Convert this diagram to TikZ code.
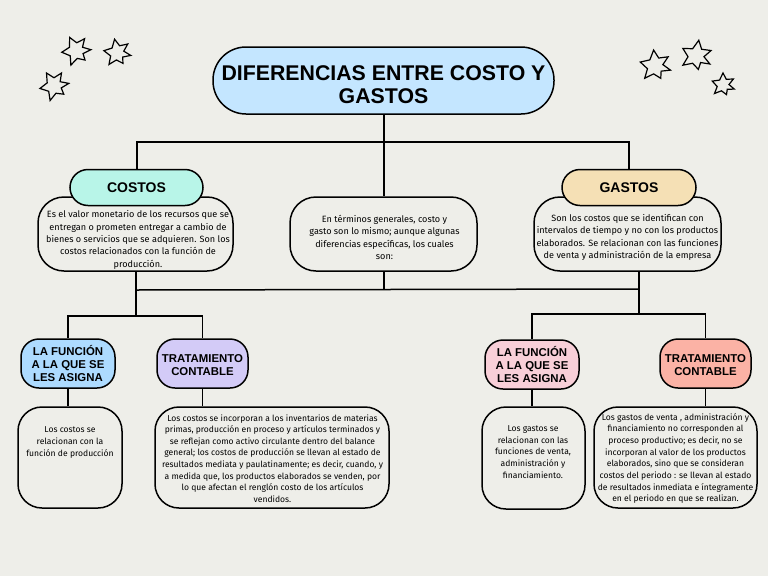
\documentclass[tikz,border=0pt]{standalone}
\usepackage{fontspec}
\setmainfont{Fira Sans}
\newfontfamily\headfont{Liberation Sans}
\definecolor{paper}{HTML}{EEEEE9}
\definecolor{titleblue}{HTML}{C4E6FF}
\definecolor{costosgreen}{HTML}{B8F5E8}
\definecolor{gastosbeige}{HTML}{F5E0B5}
\definecolor{funcblue}{HTML}{ADDBFF}
\definecolor{tratlila}{HTML}{D3CBF7}
\definecolor{funcpink}{HTML}{F8CFD8}
\definecolor{tratsalmon}{HTML}{FBB2A5}
\tikzset{
  headbox/.style={draw,line width=1.5pt,rounded corners=#1,align=center,inner sep=0pt,
    font=\headfont\bfseries\fontsize{11.4}{13.2}\selectfont},
  textbox/.style={draw,line width=1.5pt,rounded corners=#1,inner sep=0pt,fill=paper},
  uppertext/.style={align=center,inner sep=0pt,font=\fontsize{9.1}{12.3}\selectfont},
  lowertext/.style={align=center,inner sep=0pt,font=\fontsize{8.55}{11.65}\selectfont},
  link/.style={line width=1.5pt},
  toplink/.style={line width=2pt}
}
\newcommand{\starshape}[3]{% centre, size, turn
  \draw[line width=1.2pt,line join=miter,shift={#1},rotate=#3,scale=#2]
    (110:1) -- (80:.5) -- (45:.85) -- (20:.5) -- (-5:1) -- (-30:.5) -- (-55:1)
    -- (-85:.55) -- (-115:1) -- (-150:.5) -- (175:.95) -- (140:.5) -- cycle;
}
\begin{document}
\begin{tikzpicture}[x=1pt,y=-1pt]
   \useasboundingbox[fill=paper] (0,0) rectangle (768,576);
   % stars
   \starshape{(76,51)}{15}{0}
   \starshape{(117,53)}{14}{-15}
   \starshape{(54,86)}{15}{5}
   \starshape{(655,66)}{16}{-20}
   \starshape{(696,56)}{16}{-35}
   \starshape{(723,85)}{12}{-25}
   % connectors go first, boxes cover their ends
   \coordinate (barra) at (384,142);
   \coordinate (mediobaja) at (384,290);
   \coordinate (costossale) at (136,271);
   \coordinate (costosbaja) at (136,290);
   \coordinate (gastossale) at (639,271);
   \coordinate (gastosbaja) at (639,289);
   \coordinate (costosrama) at (136,316);
   \coordinate (gastosrama) at (639,314);
   % top row boxes
   \node[headbox=33pt,fill=titleblue,minimum width=341pt,minimum height=67pt,
     font=\headfont\bfseries\fontsize{21.3}{23.5}\selectfont] (titulo) at (383.5,80.5)
     {\rule{0pt}{23pt}DIFERENCIAS ENTRE COSTO Y\\GASTOS};
   \node[textbox=26pt,minimum width=195pt,minimum height=74pt] (costosdesc) at (135.5,234) {};
   \node[textbox=26pt,minimum width=187pt,minimum height=74pt] (mediodesc) at (383.5,234) {};
   \node[textbox=26pt,minimum width=187pt,minimum height=74pt] (gastosdesc) at (627.5,234) {};
   \node[headbox=18pt,fill=costosgreen,minimum width=133pt,minimum height=36pt,
     font=\headfont\bfseries\fontsize{14}{16}\selectfont] (costos) at (136.5,187.5) {COSTOS};
   \node[headbox=18pt,fill=gastosbeige,minimum width=134pt,minimum height=36pt,
     font=\headfont\bfseries\fontsize{14}{16}\selectfont] (gastos) at (629,187.5) {GASTOS};
   \node[uppertext] (costostxt) at (138,240)
     {Es el valor monetario de los recursos que se\\entregan o prometen entregar a cambio de\\bienes o servicios que se adquieren. Son los\\costos relacionados con la función de\\producción.};
   \node[uppertext] (mediotxt) at (384.5,237.5)
     {En términos generales, costo y\\gasto son lo mismo; aunque algunas\\diferencias específicas, los cuales\\son:};
   \node[uppertext] (gastostxt) at (627.5,237.5)
     {Son los costos que se identifican con\\intervalos de tiempo y no con los productos\\elaborados. Se relacionan con las funciones\\de venta y administración de la empresa};
   % bottom row boxes
   \node[headbox=18pt,fill=funcblue,minimum width=94pt,minimum height=49pt] (funcion1) at (68,363.5) {LA FUNCIÓN\\A LA QUE SE\\LES ASIGNA};
   \node[headbox=18pt,fill=tratlila,minimum width=91pt,minimum height=49pt] (trata1) at (202.5,363.5) {\rule{0pt}{11pt}TRATAMIENTO\\CONTABLE};
   \node[headbox=18pt,fill=funcpink,minimum width=94pt,minimum height=49pt] (funcion2) at (532,364.5) {LA FUNCIÓN\\A LA QUE SE\\LES ASIGNA};
   \node[headbox=18pt,fill=tratsalmon,minimum width=91pt,minimum height=49pt] (trata2) at (705.5,363.5) {\rule{0pt}{11pt}TRATAMIENTO\\CONTABLE};
   \node[textbox=24pt,minimum width=104pt,minimum height=101pt] (texto1) at (70,457.5) {};
   \node[textbox=24pt,minimum width=234pt,minimum height=101pt] (texto2) at (272,457.5) {};
   \node[textbox=24pt,minimum width=103pt,minimum height=102pt] (texto3) at (533.5,458) {};
   \node[textbox=24pt,minimum width=163pt,minimum height=101pt] (texto4) at (675.5,457.5) {};
   \node[lowertext] (lineas1) at (70,442.5)
     {Los costos se\\relacionan con la\\función de producción};
   \node[lowertext] (lineas2) at (272.5,458.5)
     {Los costos se incorporan a los inventarios de materias\\primas, producción en proceso y artículos terminados y\\se reflejan como activo circulante dentro del balance\\general; los costos de producción se llevan al estado de\\resultados mediata y paulatinamente; es decir, cuando, y\\a medida que, los productos elaborados se venden, por\\lo que afectan el renglón costo de los artículos\\vendidos.};
   \node[lowertext] (lineas3) at (533,452)
     {Los gastos se\\relacionan con las\\funciones de venta,\\administración y\\financiamiento.};
   \node[lowertext] (lineas4) at (675.5,458.5)
     {Los gastos de venta , administración y\\financiamiento no corresponden al\\proceso productivo; es decir, no se\\incorporan al valor de los productos\\elaborados, sino que se consideran\\costos del periodo : se llevan al estado\\de resultados inmediata e íntegramente\\en el periodo en que se realizan.};
   % connectors
   \draw[toplink] (titulo.south -| barra) -- (mediodesc.north -| barra);
   \draw[toplink] (barra) -| (costos);
   \draw[toplink] (barra) -| (gastos);
   \draw[link] (costossale) -- (costosrama);
   \draw[link] (costosbaja) -- (gastosbaja);
   \draw[toplink] (mediodesc.south -| mediobaja) -- (mediobaja);
   \draw[link] (gastossale) -- (gastosrama);
   \draw[link] (costosrama) -| (funcion1);
   \draw[link] (costosrama) -| (trata1);
   \draw[link] (gastosrama) -| (funcion2);
   \draw[link] (gastosrama) -| (trata2);
   \draw[link] (funcion1) -- (funcion1 |- texto1.north);
   \draw[link] (trata1) -- (trata1 |- texto2.north);
   \draw[link] (funcion2) -- (funcion2 |- texto3.north);
   \draw[link] (trata2) -- (trata2 |- texto4.north);
\end{tikzpicture}
\end{document}
